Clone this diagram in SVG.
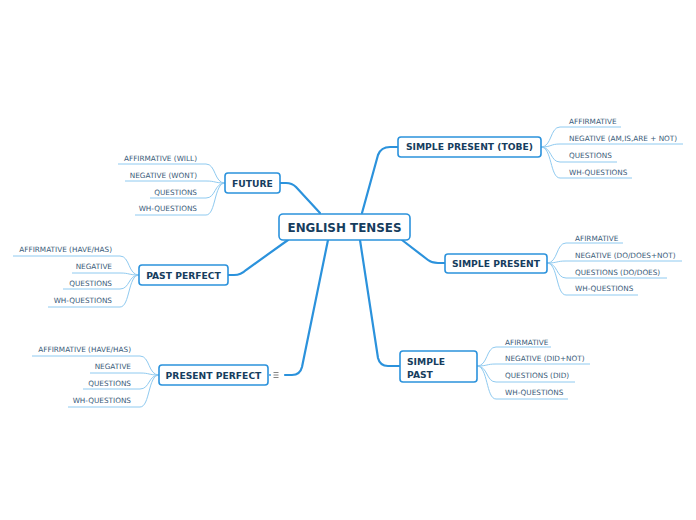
<svg xmlns="http://www.w3.org/2000/svg" width="696" height="520" viewBox="0 0 696 520">
<style>
.main{fill:none;stroke:#2b92dc;stroke-width:2.2;stroke-linecap:round}
.sub{fill:none;stroke:#8fcaf0;stroke-width:1}
.topic rect{fill:#fff;stroke:#2b92dc;stroke-width:1.6}
.topic text{font-family:"DejaVu Sans",Verdana,sans-serif;font-weight:bold;font-size:9.2px;fill:#163d5e}
.leaf{font-family:"DejaVu Sans",Verdana,sans-serif;font-size:7.3px;fill:#3a5b79}
</style>
<rect width="696" height="520" fill="#fff"/>
<g id="connectors">
<path class="main" d="M362,213 L378,155 Q381,147 390,147 L398,147"/>
<path class="main" d="M402,240 L428,260 Q432,263 438,263 L445,263"/>
<path class="main" d="M360,240 L378,358 Q380,366 388,366 L400,366"/>
<path class="main" d="M320,213 L296,187 Q292,183 286,183 L280,183"/>
<path class="main" d="M288,240 L246,270 Q241,275 234,275 L228,275"/>
<path class="main" d="M328,240 L302,367 Q300,375 292,375 L285,375"/>
<g class="sub">
<path d="M541,147 C552,147 550,127 560,127 H621"/>
<path d="M541,147 C552,147 550,144 560,144 H683"/>
<path d="M541,147 C552,147 550,162 560,162 H617"/>
<path d="M541,147 C552,147 550,178 560,178 H632"/>
<path d="M547,263 C558,263 556,243 566,243 H623"/>
<path d="M547,263 C558,263 556,261 566,261 H682"/>
<path d="M547,263 C558,263 556,278 566,278 H667"/>
<path d="M547,263 C558,263 556,295 566,295 H638"/>
<path d="M477,366 C488,366 486,347 496,347 H551"/>
<path d="M477,366 C488,366 486,364 496,364 H590"/>
<path d="M477,366 C488,366 486,382 496,382 H575"/>
<path d="M477,366 C488,366 486,399 496,399 H568"/>
<path d="M225,183 C214,183 216,164 206,164 H118"/>
<path d="M225,183 C214,183 216,181 206,181 H125"/>
<path d="M225,183 C214,183 216,198 206,198 H150"/>
<path d="M225,183 C214,183 216,215 206,215 H135"/>
<path d="M139,275 C128,275 130,256 120,256 H13"/>
<path d="M139,275 C128,275 130,273 120,273 H72"/>
<path d="M139,275 C128,275 130,289 120,289 H63"/>
<path d="M139,275 C128,275 130,307 120,307 H48"/>
<path d="M159,375 C148,375 150,356 140,356 H32"/>
<path d="M159,375 C148,375 150,373 140,373 H90"/>
<path d="M159,375 C148,375 150,389 140,389 H83"/>
<path d="M159,375 C148,375 150,407 140,407 H68"/>
</g>
</g>
<g id="central" class="topic">
<rect x="279" y="214" width="131" height="26" rx="4"/>
<text x="344.5" y="232" text-anchor="middle" style="font-size:11.9px">ENGLISH TENSES</text>
</g>
<g id="simple-present-tobe" class="topic">
<rect x="398" y="137" width="143" height="20" rx="3"/>
<text x="469.5" y="150.3" text-anchor="middle">SIMPLE PRESENT (TOBE)</text>
</g>
<g id="simple-present" class="topic">
<rect x="445" y="254" width="102" height="19" rx="3"/>
<text x="496" y="266.8" text-anchor="middle">SIMPLE PRESENT</text>
</g>
<g id="simple-past" class="topic">
<rect x="400" y="351" width="77" height="31" rx="3"/>
<text x="407" y="365">SIMPLE</text>
<text x="407" y="377.5">PAST</text>
</g>
<g id="future" class="topic">
<rect x="225" y="173" width="55" height="20" rx="3"/>
<text x="252.5" y="186.5" text-anchor="middle">FUTURE</text>
</g>
<g id="past-perfect" class="topic">
<rect x="139" y="265" width="89" height="20" rx="3"/>
<text x="183.5" y="278.5" text-anchor="middle">PAST PERFECT</text>
</g>
<g id="present-perfect" class="topic">
<rect x="159" y="365" width="109" height="20" rx="3"/>
<text x="213.5" y="378.5" text-anchor="middle">PRESENT PERFECT</text>
<circle cx="270" cy="375" r="0.9" fill="#2b92dc"/>
<g stroke="#666" stroke-width="0.8"><path d="M273.5,372.5h5M273.5,375h5M273.5,377.5h5"/></g>
</g>
<g id="leaves-tobe" class="leaf">
<text x="569" y="124.3">AFFIRMATIVE</text>
<text x="569" y="141.3">NEGATIVE (AM,IS,ARE + NOT)</text>
<text x="569" y="158.3">QUESTIONS</text>
<text x="569" y="174.8">WH-QUESTIONS</text>
</g>
<g id="leaves-simple-present" class="leaf">
<text x="575" y="240.8">AFIRMATIVE</text>
<text x="575" y="257.8">NEGATIVE (DO/DOES+NOT)</text>
<text x="575" y="274.8">QUESTIONS (DO/DOES)</text>
<text x="575" y="291.3">WH-QUESTIONS</text>
</g>
<g id="leaves-simple-past" class="leaf">
<text x="505" y="344.8">AFIRMATIVE</text>
<text x="505" y="361.3">NEGATIVE (DID+NOT)</text>
<text x="505" y="378.3">QUESTIONS (DID)</text>
<text x="505" y="395.3">WH-QUESTIONS</text>
</g>
<g id="leaves-future" class="leaf" text-anchor="end">
<text x="197" y="160.8">AFFIRMATIVE (WILL)</text>
<text x="197" y="177.8">NEGATIVE (WONT)</text>
<text x="197" y="194.8">QUESTIONS</text>
<text x="197" y="211.3">WH-QUESTIONS</text>
</g>
<g id="leaves-past-perfect" class="leaf" text-anchor="end">
<text x="112" y="251.8">AFFIRMATIVE (HAVE/HAS)</text>
<text x="112" y="268.8">NEGATIVE</text>
<text x="112" y="285.8">QUESTIONS</text>
<text x="112" y="302.8">WH-QUESTIONS</text>
</g>
<g id="leaves-present-perfect" class="leaf" text-anchor="end">
<text x="131" y="351.8">AFFIRMATIVE (HAVE/HAS)</text>
<text x="131" y="368.8">NEGATIVE</text>
<text x="131" y="385.8">QUESTIONS</text>
<text x="131" y="402.8">WH-QUESTIONS</text>
</g>
</svg>
